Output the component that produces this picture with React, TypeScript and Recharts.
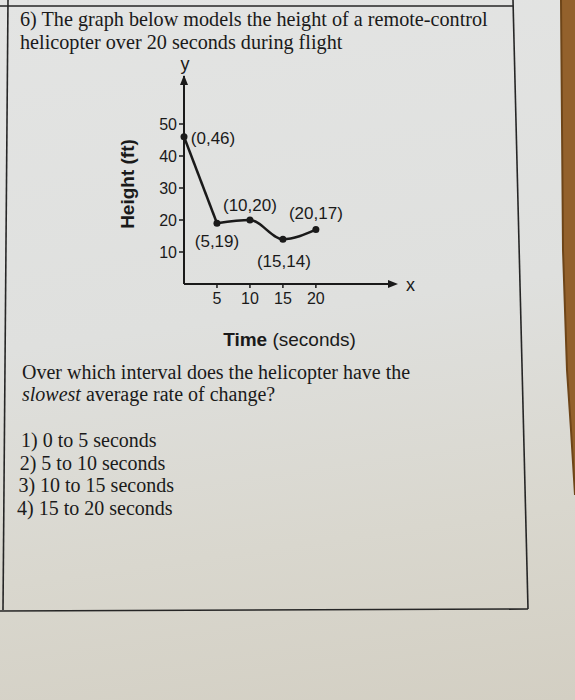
import { ComposedChart, Line, XAxis, YAxis, ReferenceDot } from "recharts";

// helicopter height model
const TIME = [0, 5, 10, 15, 20];
const HEIGHT = [46, 19, 20, 14, 17];
const X_TICKS = [5, 10, 15, 20];
const Y_TICKS = [10, 20, 30, 40, 50];
const X_MAX = 32;
const Y_MAX = 65;

const HEADER = [
  "6) The graph below models the height of a remote-control",
  "helicopter over 20 seconds during flight",
];
const CHOICES = ["1) 0 to 5 seconds", "2) 5 to 10 seconds", "3) 10 to 15 seconds", "4) 15 to 20 seconds"];

const points = TIME.map((t, i) => ({ t, h: HEIGHT[i] }));

// where each "(x,y)" tag sits relative to its dot
const LABEL_OFFSET: Record<number, [number, number]> = {
  0: [29, 2],
  5: [0, 18],
  10: [0, -15],
  15: [1, 22],
  20: [0, -16],
};

const INK = "#1a1a1a";
const SANS = "'Liberation Sans', Arial, sans-serif";
const SERIF = "'Liberation Serif', 'Times New Roman', serif";

function PointDot(props: any) {
  const { cx, cy, payload } = props;
  const [dx, dy] = LABEL_OFFSET[payload.t] || [0, -14];
  return (
    <g key={`pt-${payload.t}`}>
      <circle cx={cx} cy={cy} r={3.5} fill={INK} />
      <text
        x={cx + dx}
        y={cy + dy}
        textAnchor="middle"
        dominantBaseline="central"
        fontFamily={SANS}
        fontSize={17}
        fill={INK}
      >
        ({payload.t},{payload.h})
      </text>
    </g>
  );
}

function XArrow({ cx, cy }: any) {
  return (
    <g>
      <path d={`M${cx + 3},${cy} L${cx - 7},${cy - 4} L${cx - 7},${cy + 4} Z`} fill={INK} />
      <text x={cx + 11} y={cy + 1} dominantBaseline="central" fontFamily={SANS} fontSize={18} fill={INK}>
        x
      </text>
    </g>
  );
}

function YArrow({ cx, cy }: any) {
  return (
    <g>
      <path d={`M${cx},${cy - 1} L${cx - 4},${cy + 9} L${cx + 4},${cy + 9} Z`} fill={INK} />
      <text x={cx + 1} y={cy - 12} textAnchor="middle" dominantBaseline="central" fontFamily={SANS} fontSize={18} fill={INK}>
        y
      </text>
    </g>
  );
}

function Page() {
  return (
    <svg width={575} height={700} style={{ position: "absolute", left: 0, top: 0 }}>
      <polygon points="561,0 575,0 575,495 571,430 567,370 563,250" fill="#93612c" />
      <polyline points="561,0 563,250 567,370 571,430 575,495" fill="none" stroke="#6e4518" strokeWidth={2} />
      <g stroke="#262626" strokeWidth={1.6} fill="none">
        <line x1={0} y1={6} x2={513} y2={6} />
        <line x1={8} y1={0} x2={3} y2={610} />
        <line x1={513} y1={0} x2={528} y2={609} />
        <line x1={0} y1={611} x2={528} y2={609} />
      </g>
    </svg>
  );
}

export default function App() {
  const textStyle = { position: "absolute" as const, fontFamily: SERIF, fontSize: 20, color: INK, whiteSpace: "nowrap" as const };
  return (
    <div
      style={{
        position: "absolute",
        left: 0,
        top: 0,
        width: 575,
        height: 700,
        overflow: "hidden",
        background: "linear-gradient(172deg, #e3e4e3 0%, #dfe0de 45%, #d9d7ce 75%, #d3cfc3 100%)",
      }}
    >
      <Page />
      <div style={{ position: "absolute", left: 0, top: 0 }}>
        <ComposedChart width={575} height={700} margin={{ top: 76, right: 180, bottom: 386, left: 144 }}>
          <XAxis
            type="number"
            dataKey="t"
            domain={[0, X_MAX]}
            ticks={X_TICKS}
            height={30}
            tickSize={4}
            tickMargin={5}
            axisLine={{ stroke: INK, strokeWidth: 2 }}
            tickLine={{ stroke: INK, strokeWidth: 1.5 }}
            tick={{ fill: INK, fontSize: 16, fontFamily: SANS }}
            label={{
              content: ({ viewBox }: any) => (
                <text
                  x={viewBox.x + viewBox.width / 2}
                  y={viewBox.y + 62}
                  textAnchor="middle"
                  fontFamily={SANS}
                  fontSize={19}
                  fill={INK}
                >
                  <tspan fontWeight="bold">Time</tspan>
                  <tspan> (seconds)</tspan>
                </text>
              ),
            }}
          />
          <YAxis
            type="number"
            domain={[0, Y_MAX]}
            ticks={Y_TICKS}
            width={40}
            tickSize={5}
            tickMargin={2}
            axisLine={{ stroke: INK, strokeWidth: 2 }}
            tickLine={{ stroke: INK, strokeWidth: 1.5 }}
            tick={{ fill: INK, fontSize: 16, fontFamily: SANS }}
            label={{
              content: ({ viewBox }: any) => {
                const x = viewBox.x - 17;
                const y = viewBox.y + viewBox.height / 2 + 4;
                return (
                  <text
                    x={x}
                    y={y}
                    transform={`rotate(-90 ${x} ${y})`}
                    textAnchor="middle"
                    dominantBaseline="central"
                    fontFamily={SANS}
                    fontWeight="bold"
                    fontSize={19}
                    fill={INK}
                  >
                    Height (ft)
                  </text>
                );
              },
            }}
          />
          <Line
            data={points.slice(0, 2)}
            dataKey="h"
            type="linear"
            stroke={INK}
            strokeWidth={2.5}
            dot={false}
            isAnimationActive={false}
          />
          <Line
            data={points.slice(1)}
            dataKey="h"
            type="monotone"
            stroke={INK}
            strokeWidth={2.5}
            dot={false}
            isAnimationActive={false}
          />
          <Line
            data={points}
            dataKey="h"
            stroke="none"
            dot={(p: any) => <PointDot key={`d-${p.payload.t}`} {...p} />}
            isAnimationActive={false}
          />
          <ReferenceDot x={X_MAX} y={0} ifOverflow="visible" shape={(p: any) => <XArrow {...p} />} />
          <ReferenceDot x={0} y={Y_MAX} ifOverflow="visible" shape={(p: any) => <YArrow {...p} />} />
        </ComposedChart>
      </div>
      <div style={{ ...textStyle, left: 20, top: 8, lineHeight: "23px", fontSize: 20.2 }}>
        {HEADER.map((s) => (
          <div key={s}>{s}</div>
        ))}
      </div>
      <div style={{ ...textStyle, left: 22, top: 361, lineHeight: "22px" }}>
        <div>Over which interval does the helicopter have the</div>
        <div>
          <i>slowest</i> average rate of change?
        </div>
      </div>
      {CHOICES.map((c, i) => (
        <div key={c} style={{ ...textStyle, left: 21 - i * 1.3, top: 429 + i * 22.7, lineHeight: "22px" }}>
          {c}
        </div>
      ))}
    </div>
  );
}
